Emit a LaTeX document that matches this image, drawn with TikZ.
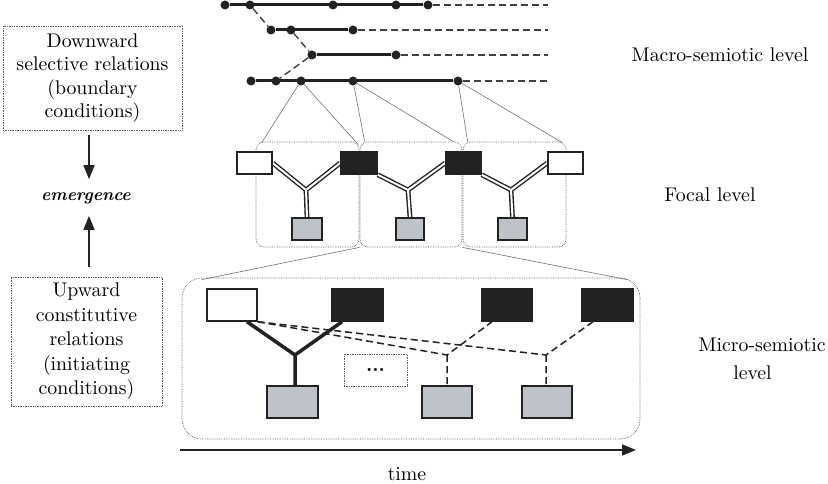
\documentclass[tikz,border=0pt]{standalone}
\usepackage{fontspec}
\setmainfont{lmroman10-regular.otf}[BoldFont=lmroman10-bold.otf,ItalicFont=lmroman10-italic.otf,BoldItalicFont=lmroman10-bolditalic.otf]
\usetikzlibrary{arrows.meta,calc}
\pgfdeclarelayer{bg}
\pgfsetlayers{bg,main}
\definecolor{boxgray}{HTML}{BEC2C9}
\definecolor{ink}{HTML}{222222}
\begin{document}
\begin{tikzpicture}[x=1pt,y=-1pt,
  every node/.style={font=\rmfamily\fontsize{19.8}{23.5}\selectfont},
  dot/.style={circle,fill=ink,inner sep=0pt,minimum size=9pt},
  macroline/.style={line width=3pt,ink},
  macrodash/.style={line width=1.4pt,black!75,dash pattern=on 7pt off 4pt},
  thinline/.style={line width=0.6pt,black!55},
  framebox/.style={draw=black!65,line width=0.7pt,densely dotted},
  fbox/.style={framebox,rounded corners=8pt,inner sep=0pt},
  whitebox/.style={draw=ink,line width=1.5pt,fill=white,inner sep=0pt},
  blackbox/.style={draw=ink,line width=1.5pt,fill=ink,inner sep=0pt},
  graybox/.style={draw=ink,line width=1.5pt,fill=boxgray,inner sep=0pt},
  dbl/.style={line width=1.4pt,ink,double=white,double distance=2pt,line join=round},
  thickline/.style={line width=3.5pt,ink,line join=round},
  mdash/.style={line width=1.5pt,ink,dash pattern=on 7pt off 4pt},
  arr/.style={line width=1.5pt,ink,-{Triangle[length=14pt,width=11pt]}}
]
\useasboundingbox (0,0) rectangle (828,484);

% ---------- macro level ----------
\foreach \n/\x in {a1/225,a2/250,a3/333,a4/396,a5/428} \node[dot] (\n) at (\x,5) {};
\foreach \n/\x in {b1/271,b2/291,b3/353} \node[dot] (\n) at (\x,30) {};
\foreach \n/\x in {c1/312,c2/396} \node[dot] (\n) at (\x,55) {};
\foreach \n/\x in {d1/251,d2/276,d3/301,d4/353,d5/458} \node[dot] (\n) at (\x,81) {};
\coordinate (ae) at (548,5);
\coordinate (be) at (548,30);
\coordinate (ce) at (548,55);
\coordinate (de) at (548,81);

% ---------- focal level ----------
\node[fbox,minimum width=103pt,minimum height=105pt] (fbox1) at (307.5,194.5) {};
\node[fbox,minimum width=102pt,minimum height=105pt] (fbox2) at (411,194.5) {};
\node[fbox,minimum width=103pt,minimum height=105pt] (fbox3) at (514.5,194.5) {};

\node[whitebox,minimum width=35pt,minimum height=22pt] (fw1) at (254.5,163) {};
\node[blackbox,minimum width=36pt,minimum height=22pt] (fb1) at (359,163) {};
\node[blackbox,minimum width=35pt,minimum height=22pt] (fb2) at (463.5,163) {};
\node[whitebox,minimum width=35pt,minimum height=22pt] (fw2) at (565.5,163) {};
\node[graybox,minimum width=30pt,minimum height=22pt] (fg1) at (307,229) {};
\node[graybox,minimum width=28pt,minimum height=22pt] (fg2) at (410,229) {};
\node[graybox,minimum width=29pt,minimum height=22pt] (fg3) at (512.5,229) {};
\coordinate (fj1) at (306,190);
\coordinate (fj2) at (408,190);
\coordinate (fj3) at (511,190);

% ---------- micro level ----------
\node[fbox,rounded corners=20pt,minimum width=458pt,minimum height=161pt] (micro) at (411,358.5) {};
\node[whitebox,minimum width=50pt,minimum height=32pt] (mw) at (232,305) {};
\node[blackbox,minimum width=51pt,minimum height=32pt] (mb1) at (357.5,305) {};
\node[blackbox,minimum width=50pt,minimum height=32pt] (mb2) at (507,305) {};
\node[blackbox,minimum width=51pt,minimum height=32pt] (mb3) at (607.5,305) {};
\node[graybox,minimum width=51pt,minimum height=32pt] (mg1) at (292.5,402) {};
\node[graybox,minimum width=50pt,minimum height=32pt] (mg2) at (447,402) {};
\node[graybox,minimum width=50pt,minimum height=32pt] (mg3) at (547,402) {};
\node[framebox,minimum width=63pt,minimum height=32pt,inner sep=0pt] (mdots) at (375.5,370) {\textbf{...}};
\coordinate (mj1) at (295,355);
\coordinate (mj2) at (447,355);
\coordinate (mj3) at (546,355);

% ---------- left side ----------
\node[framebox,minimum width=179pt,minimum height=104pt,align=center,inner sep=0pt] (box1) at (92.5,78)
  {Downward\\selective relations\\(boundary\\conditions)};
\node[framebox,minimum width=151pt,minimum height=129pt,align=center,inner sep=0pt,
  font=\rmfamily\fontsize{19.8}{24.5}\selectfont] (box2) at (86.5,341.5)
  {Upward\\constitutive\\relations\\(initiating\\conditions)};
\node[inner sep=0pt,font=\rmfamily\fontsize{17.3}{22}\selectfont] (emerg) at (86,198) {\textbf{\textit{emergence}}};
\draw[arr,shorten <=5pt,shorten >=13pt] ([xshift=3pt]emerg.north |- box1.south) -- ([xshift=3pt]emerg.north);
\draw[arr,shorten <=10pt,shorten >=12pt] ([xshift=3pt]emerg.south |- box2.north) -- ([xshift=3pt]emerg.south);

% ---------- right labels ----------
\node (lmacro) at (720,55) {Macro-semiotic level};
\node (lfocal) at (710,195) {Focal level};
\node[align=center,font=\rmfamily\fontsize{19.8}{28}\selectfont] (lmicro) at (762,359)
  {Micro-semiotic\\level\hspace*{19pt}};

% ---------- time ----------
\coordinate (t0) at (180,450);
\coordinate (t1) at (636,450);
\draw[arr] (t0) -- (t1);
\node (ltime) at (407,474) {time};

% ---------- connectors (behind nodes) ----------
\begin{pgfonlayer}{bg}
  \draw[macroline] (a1) -- (a5);
  \draw[macroline] (b1) -- (b3);
  \draw[macroline] (c1) -- (c2);
  \draw[macroline] (d1) -- (d5);
  \draw[macrodash] (a5) -- (ae);
  \draw[macrodash] (b3) -- (be);
  \draw[macrodash] (c2) -- (ce);
  \draw[macrodash] (d5) -- (de);
  \draw[macrodash] (a2) -- (b1);
  \draw[macrodash] (b2) -- (c1);
  \draw[macrodash] (c1) -- (d2);

  \draw[thinline] (d3) -- ([xshift=6pt,yshift=-1pt]fbox1.north west);
  \draw[thinline] (d3) -- ([xshift=-1pt,yshift=-3pt]fbox1.north east);
  \draw[thinline] (d4) -- ([xshift=5pt]fbox2.north west);
  \draw[thinline] (d4) -- ([xshift=-9pt]fbox2.north east);
  \draw[thinline] (d5) -- ([xshift=5pt]fbox3.north west);
  \draw[thinline] (d5) -- ([xshift=-4pt,yshift=-1pt]fbox3.north east);

  \draw[thinline] (fbox2.south west) -- ([xshift=20pt,yshift=-2pt]micro.north west);
  \draw[thinline] (fbox2.south east) -- ([xshift=-13pt,yshift=-2pt]micro.north east);

  \draw[dbl] (fw1.east) -- (fj1) -- (fb1.west) (fj1) -- (fg1.north);
  \draw[dbl] (fb1.south east) -- (fj2) -- (fb2.west) (fj2) -- (fg2.north);
  \draw[dbl] (fb2.south east) -- (fj3) -- (fw2.west) (fj3) -- (fg3.north);

  \draw[thickline] ([xshift=15pt]mw.south) -- (mj1) -- ([xshift=-15.5pt]mb1.south) (mj1) -- (mj1 |- mg1.north);
  \draw[mdash] (mw.south east) -- (mj2) -- ([xshift=-15pt]mb2.south) (mj2) -- (mj2 |- mg2.north);
  \draw[mdash] (mw.south east) -- (mj3) -- ([xshift=-14.5pt]mb3.south) (mj3) -- (mj3 |- mg3.north);
\end{pgfonlayer}
\end{tikzpicture}
\end{document}
